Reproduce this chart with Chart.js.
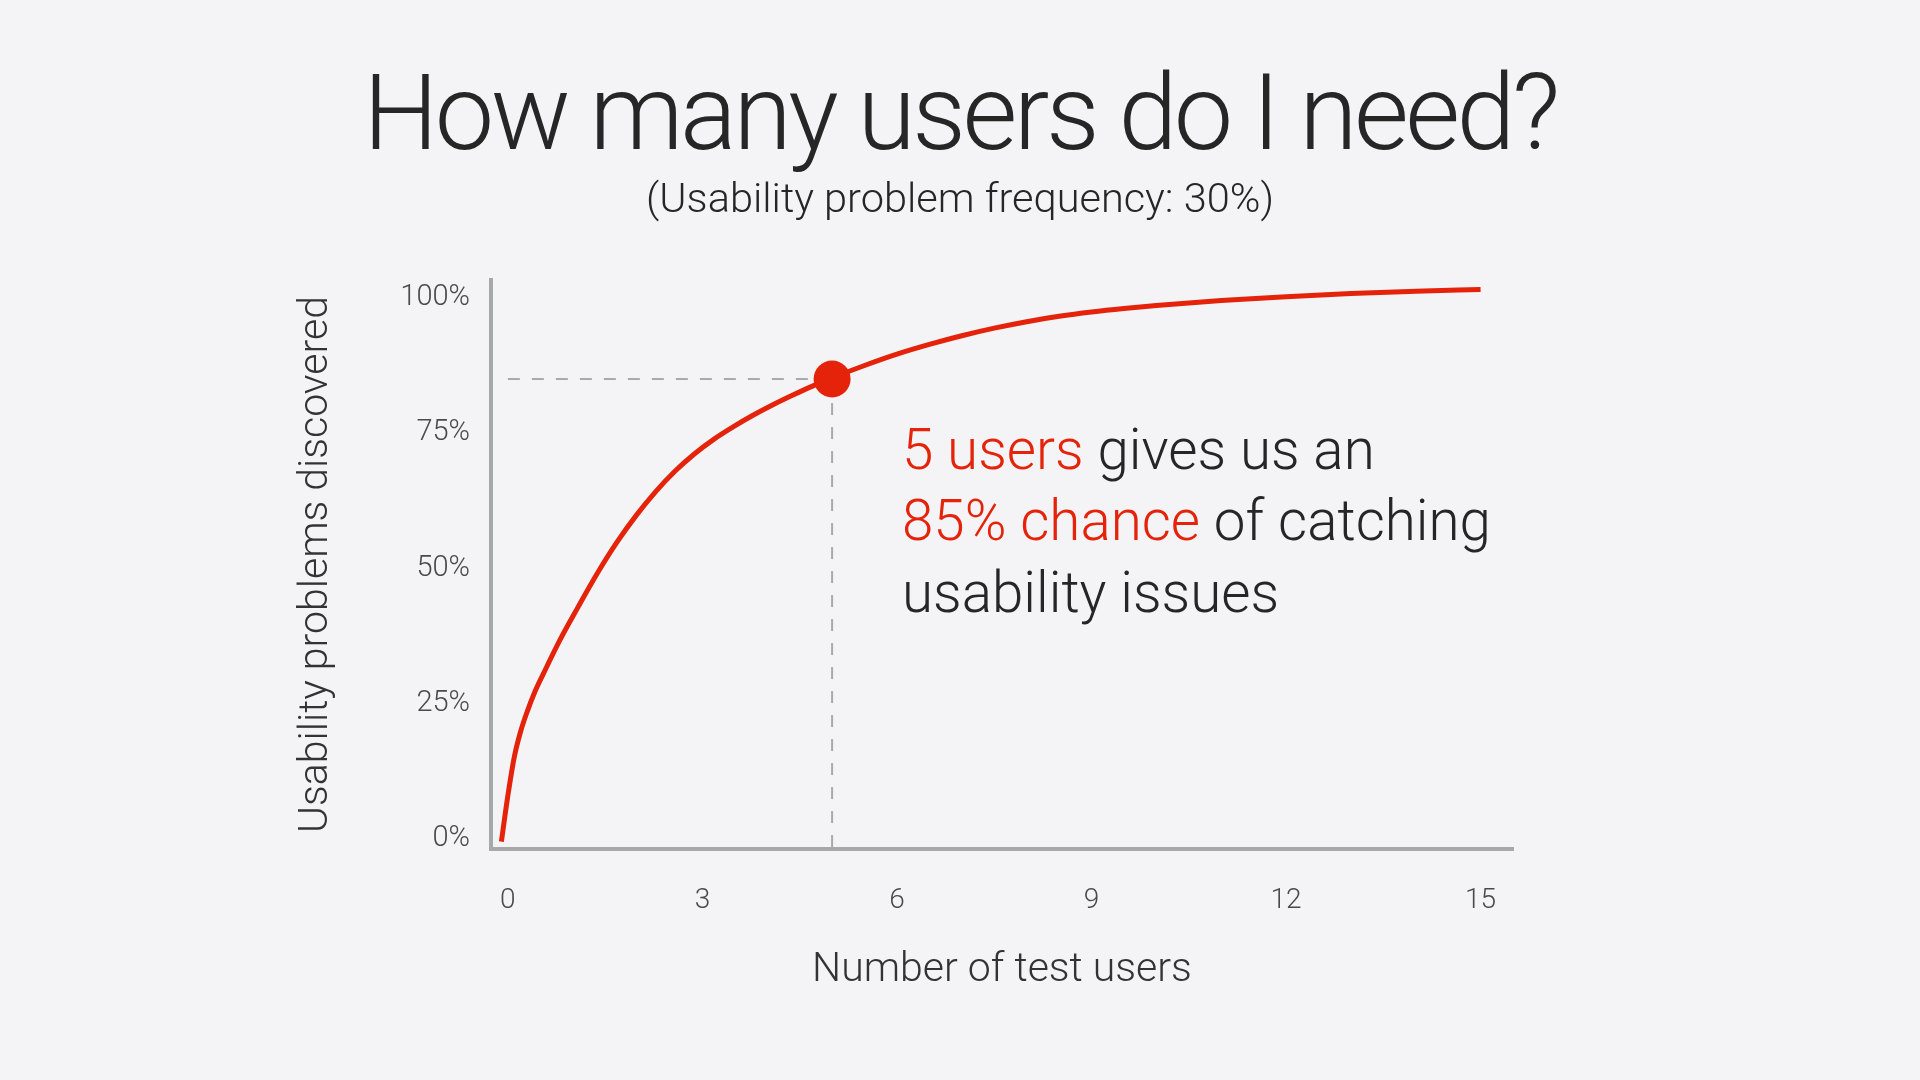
<!DOCTYPE html>
<html>
<head>
<meta charset="utf-8">
<script src="https://cdn.jsdelivr.net/npm/chart.js@4/dist/chart.umd.min.js"></script>
<style>
  html, body { margin: 0; padding: 0; background: #f4f4f6; }
  #wrap { width: 1920px; height: 1080px; position: relative; }
</style>
</head>
<body>
<div id="wrap"><canvas id="c" width="1920" height="1080"></canvas></div>
<script>
// ---- Data ----
const titleText = "How many users do I need?";
const subtitleText = "(Usability problem frequency: 30%)";
const xAxisTitle = "Number of test users";
const yAxisTitle = "Usability problems discovered";
const xTicks = [0, 3, 6, 9, 12, 15];
const yTicks = [0, 25, 50, 75, 100];
const users = [-0.1, 0, 0.1, 0.2, 0.3, 0.42, 0.55, 0.8, 1.08, 1.38, 1.68, 1.98, 2.28, 2.58, 2.88, 3.18, 3.48, 3.78, 4.08, 4.38, 4.68, 5, 5.5, 6, 6.5, 7, 7.5, 8, 8.5, 9, 9.5, 10, 11, 12, 13, 14, 15];
const found = [-0.5, 8, 15.2, 20, 23.6, 27.3, 30.6, 36.7, 42.8, 49.1, 54.8, 59.8, 64.2, 68.0, 71.2, 73.9, 76.2, 78.3, 80.2, 81.95, 83.6, 85.2, 87.5, 89.6, 91.4, 93.0, 94.4, 95.6, 96.6, 97.4, 98.05, 98.6, 99.5, 100.2, 100.8, 101.2, 101.55];
const highlightUsers = 5;
const highlightFound = 85;
const noteLines = [
  [{ t: "5 users", red: true }, { t: " gives us an" }],
  [{ t: "85% chance", red: true }, { t: " of catching" }],
  [{ t: "usability issues" }]
];
const xMin = -0.26, xMax = 15.5;
const yMin = -1.85, yMax = 103.3;

// ---- Styles ----
const RED = '#e4230a';
const DARK = '#262626';
const GRAY_AXIS = '#a7a9a9';
const GRAY_DASH = '#a9a9a9';
const FONT = 'Roboto, "Helvetica Neue", Lato, sans-serif';

const curvePoints = users.map((u, i) => ({ x: u, y: found[i] }));

const textPlugin = {
  id: 'slideText',
  afterDraw(chart) {
    const ctx = chart.ctx;
    ctx.save();
    ctx.textBaseline = 'alphabetic';
    ctx.fillStyle = DARK;
    ctx.textAlign = 'center';
    ctx.font = '300 106px ' + FONT;
    if ('letterSpacing' in ctx) ctx.letterSpacing = '-3.5px';
    ctx.fillText(titleText, 960, 149);
    if ('letterSpacing' in ctx) ctx.letterSpacing = '0px';
    ctx.font = '300 41.5px ' + FONT;
    ctx.fillText(subtitleText, 960, 212);

    ctx.textAlign = 'left';
    ctx.font = '300 56.5px ' + FONT;
    const baselines = [469, 540, 612];
    noteLines.forEach((line, i) => {
      let x = 902;
      line.forEach(seg => {
        ctx.fillStyle = seg.red ? RED : DARK;
        ctx.fillText(seg.t, x, baselines[i]);
        x += ctx.measureText(seg.t).width;
      });
    });
    ctx.restore();
  }
};

new Chart(document.getElementById('c'), {
  type: 'line',
  data: {
    datasets: [
      {
        data: [{ x: highlightUsers, y: highlightFound }],
        showLine: false,
        pointRadius: 18.5,
        pointBackgroundColor: RED,
        pointBorderWidth: 0,
        borderColor: RED
      },
      {
        data: curvePoints,
        borderColor: RED,
        borderWidth: 5,
        pointRadius: 0,
        cubicInterpolationMode: 'monotone',
        fill: false
      },
      {
        data: [{ x: 0, y: highlightFound }, { x: highlightUsers, y: highlightFound }],
        borderColor: GRAY_DASH,
        borderWidth: 2,
        borderDash: [12, 12],
        pointRadius: 0
      },
      {
        data: [{ x: highlightUsers, y: highlightFound }, { x: highlightUsers, y: yMin }],
        borderColor: GRAY_DASH,
        borderWidth: 2,
        borderDash: [12, 12],
        pointRadius: 0
      }
    ]
  },
  options: {
    responsive: false,
    devicePixelRatio: 1,
    animation: false,
    layout: { padding: { top: 280, right: 407, bottom: 0, left: 0 } },
    plugins: { legend: { display: false }, tooltip: { enabled: false } },
    scales: {
      x: {
        type: 'linear',
        min: xMin,
        max: xMax,
        grid: { display: false, drawTicks: false },
        border: { display: true, color: GRAY_AXIS, width: 4 },
        afterBuildTicks: s => { s.ticks = xTicks.map(v => ({ value: v })); },
        afterFit: s => { s.height = 231; },
        ticks: {
          font: { family: FONT, size: 28, weight: '300' },
          color: '#4a4a4a',
          padding: 35,
          maxRotation: 0,
          callback: v => String(v)
        },
        title: {
          display: true,
          text: xAxisTitle,
          color: '#333333',
          font: { family: FONT, size: 41, weight: '300' },
          padding: { top: 0, bottom: 85 }
        }
      },
      y: {
        type: 'linear',
        min: yMin,
        max: yMax,
        grid: { display: false, drawTicks: false },
        border: { display: true, color: GRAY_AXIS, width: 4 },
        afterBuildTicks: s => { s.ticks = yTicks.map(v => ({ value: v })); },
        afterFit: s => { s.width = 491; },
        ticks: {
          font: { family: FONT, size: 29, weight: '300' },
          color: '#4a4a4a',
          padding: 21,
          callback: v => v + '%'
        },
        title: {
          display: true,
          text: yAxisTitle,
          color: '#333333',
          font: { family: FONT, size: 41, weight: '300' },
          padding: { top: 292, bottom: 0 }
        }
      }
    }
  },
  plugins: [textPlugin]
});
</script>
</body>
</html>
